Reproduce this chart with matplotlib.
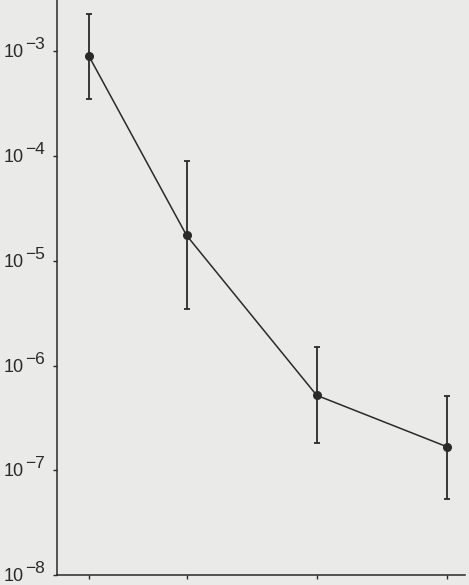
import matplotlib
matplotlib.use("Agg")
import matplotlib.pyplot as plt

plt.rcParams["font.family"] = ["Liberation Sans", "DejaVu Sans"]

# data (log y axis)
x = [1.0, 1.75, 2.75, 3.75]
y = [9.0e-4, 1.75e-5, 5.2e-7, 1.68e-7]
y_hi = [2.26e-3, 8.9e-5, 1.5e-6, 5.1e-7]
y_lo = [3.55e-4, 3.5e-6, 1.83e-7, 5.3e-8]

y_ticks = [1e-8, 1e-7, 1e-6, 1e-5, 1e-4, 1e-3]
y_exps = ["\u22128", "\u22127", "\u22126", "\u22125", "\u22124", "\u22123"]

paper = "#eaeae8"
ink = "#2a2a2a"

fig = plt.figure(figsize=(4.69, 5.85), dpi=100, facecolor=paper)
ax = fig.add_axes([0.1215, 0.0171, 0.87, 0.9829])
ax.set_facecolor(paper)

err = [[v - lo for v, lo in zip(y, y_lo)], [hi - v for v, hi in zip(y, y_hi)]]
ax.errorbar(x, y, yerr=err, color=ink, lw=1.1, marker="o", ms=5.5,
            elinewidth=1.3, capsize=2.5, capthick=1.3)

ax.set_yscale("log")
ax.set_ylim(1e-8, 3.1e-3)
ax.set_xlim(0.754, 3.89)

ax.set_yticks(y_ticks)
ax.set_yticklabels([])
ax.yaxis.set_minor_locator(matplotlib.ticker.NullLocator())
ax.set_xticks(x)
ax.set_xticklabels([])

# typewriter-style labels: "10" with a full-size raised exponent
ytrans = ax.get_yaxis_transform()
for t, e in zip(y_ticks, y_exps):
    ax.annotate("10", xy=(0, t), xycoords=ytrans, xytext=(-33, -6),
                textcoords="offset pixels", ha="right", va="baseline",
                fontsize=13, color=ink, annotation_clip=False)
    ax.annotate(e, xy=(0, t), xycoords=ytrans, xytext=(-32, 2),
                textcoords="offset pixels", ha="left", va="baseline",
                fontsize=12.5, color=ink, annotation_clip=False)

ax.tick_params(axis="y", length=3, width=1, colors=ink)
ax.tick_params(axis="x", length=3, width=1, colors=ink)

for side in ["top", "right"]:
    ax.spines[side].set_visible(False)
for side in ["left", "bottom"]:
    ax.spines[side].set_color(ink)
    ax.spines[side].set_linewidth(1.1)

fig.savefig("out.png", dpi=100, facecolor=paper)
